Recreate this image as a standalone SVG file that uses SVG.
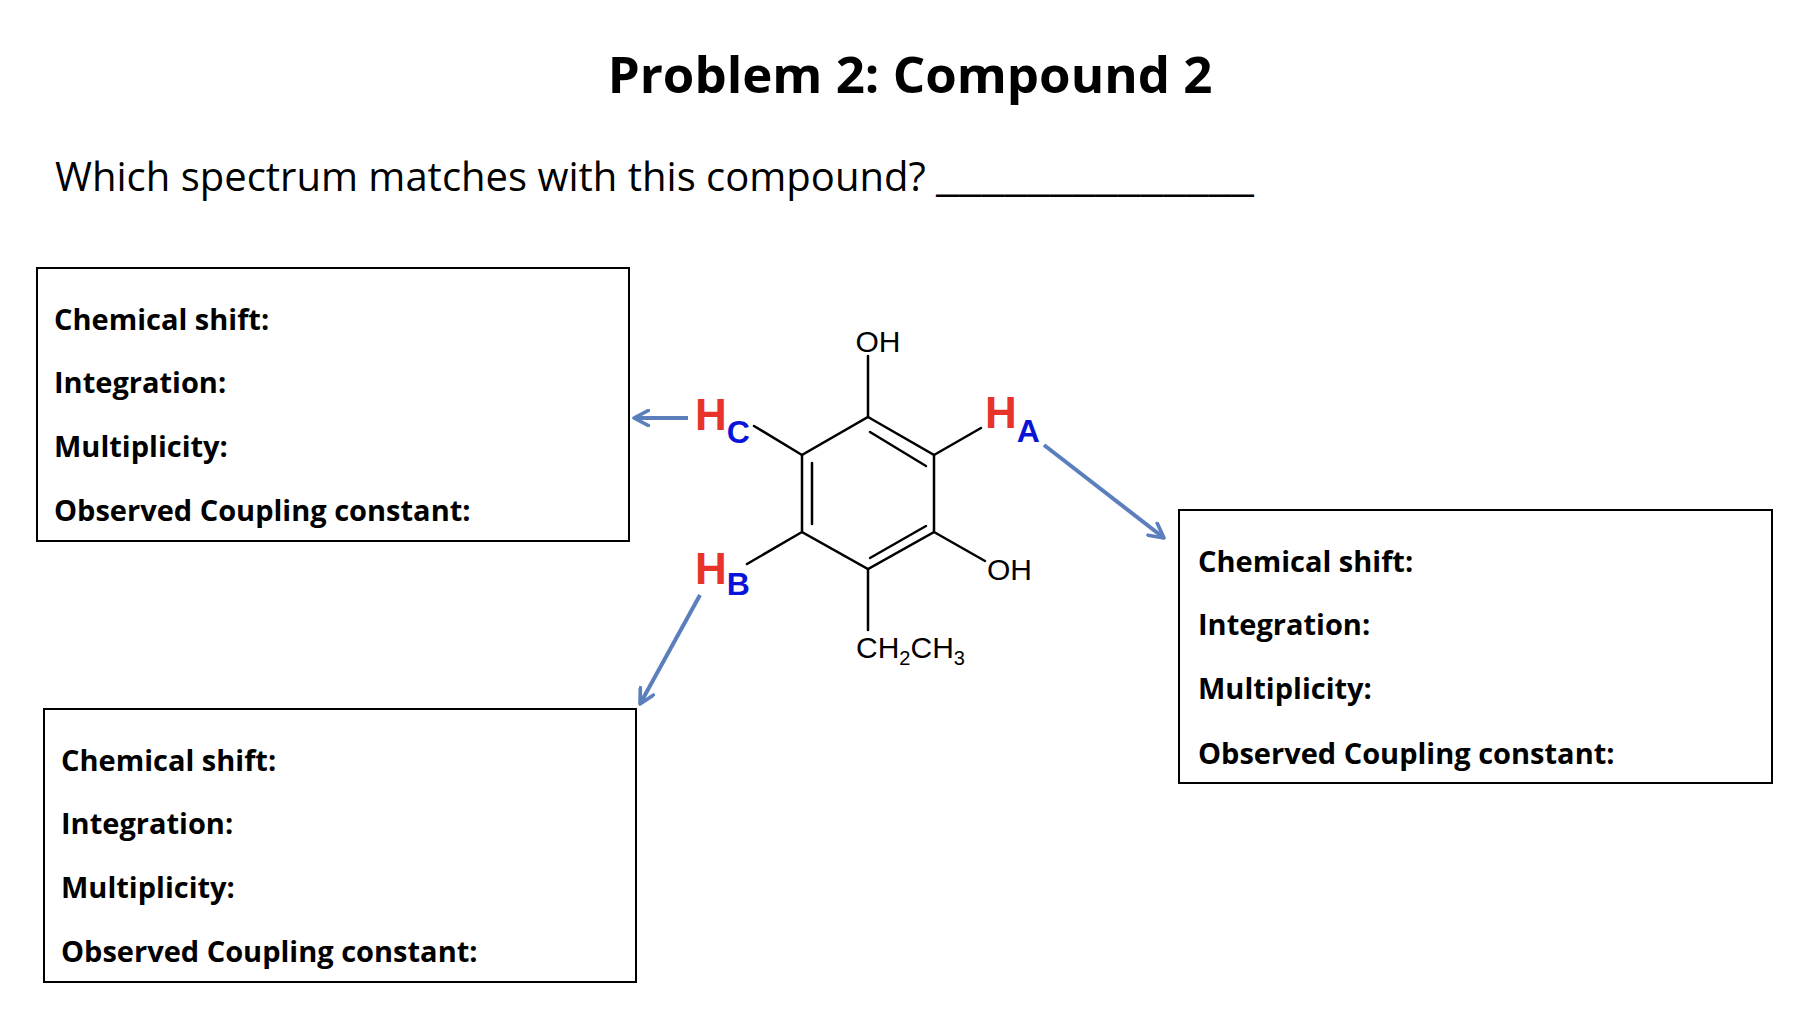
<svg xmlns="http://www.w3.org/2000/svg" width="1805" height="1010" viewBox="0 0 1805 1010">
<defs>
<marker id="ah" markerWidth="18" markerHeight="18" refX="9" refY="5" orient="auto" markerUnits="userSpaceOnUse" viewBox="0 0 10 10">
<path d="M1,0.8 L9,5 L1,9.2" fill="none" stroke="#5b7fbd" stroke-width="2" stroke-linecap="round" stroke-linejoin="round"/>
</marker>
</defs>
<style>
text{font-family:"Open Sans","Liberation Sans",sans-serif}
.lbl{font-weight:bold;font-size:29px;fill:#000}
.box{fill:none;stroke:#000;stroke-width:2}
.bond{stroke:#000;stroke-width:2.5;fill:none;stroke-linecap:round}
.at{font-family:"Liberation Sans",Arial,sans-serif;font-size:30px;fill:#000}
.h{font-family:"Liberation Sans",Arial,sans-serif;font-weight:bold;font-size:44px;fill:#e8332a}
.s{font-family:"Liberation Sans",Arial,sans-serif;font-weight:bold;font-size:32px;fill:#0a14d8}
.arr{stroke:#5b7fbd;stroke-width:4;fill:none;marker-end:url(#ah)}
</style>
<rect width="1805" height="1010" fill="#fff"/>
<text x="910" y="93" text-anchor="middle" font-weight="bold" font-size="51">Problem 2: Compound 2</text>
<text x="55" y="191" font-size="40">Which spectrum matches with this compound? <tspan textLength="318" lengthAdjust="spacingAndGlyphs">______________</tspan></text>

<g id="boxC">
<rect class="box" x="37" y="268" width="592" height="273"/>
<text class="lbl" x="54" y="330">Chemical shift:</text>
<text class="lbl" x="54" y="393">Integration:</text>
<text class="lbl" x="54" y="457">Multiplicity:</text>
<text class="lbl" x="54" y="521">Observed Coupling constant:</text>
</g>
<g id="boxB">
<rect class="box" x="44" y="709" width="592" height="273"/>
<text class="lbl" x="61" y="771">Chemical shift:</text>
<text class="lbl" x="61" y="834">Integration:</text>
<text class="lbl" x="61" y="898">Multiplicity:</text>
<text class="lbl" x="61" y="962">Observed Coupling constant:</text>
</g>
<g id="boxA">
<rect class="box" x="1179" y="510" width="593" height="273"/>
<text class="lbl" x="1198" y="572">Chemical shift:</text>
<text class="lbl" x="1198" y="635">Integration:</text>
<text class="lbl" x="1198" y="699">Multiplicity:</text>
<text class="lbl" x="1198" y="764">Observed Coupling constant:</text>
</g>

<g id="molecule">
<path class="bond" d="M868,417 L934,455 L934,532 L868,569 L802,532 L802,455 Z"/>
<line class="bond" x1="870" y1="432" x2="926" y2="466"/>
<line class="bond" x1="812" y1="463" x2="812" y2="524"/>
<line class="bond" x1="926" y1="526" x2="870" y2="558"/>
<line class="bond" x1="868" y1="417" x2="868" y2="356"/>
<line class="bond" x1="802" y1="455" x2="754" y2="426"/>
<line class="bond" x1="934" y1="455" x2="981" y2="428"/>
<line class="bond" x1="802" y1="532" x2="747" y2="564"/>
<line class="bond" x1="934" y1="532" x2="985" y2="561"/>
<line class="bond" x1="868" y1="569" x2="868" y2="630"/>
<text class="at" x="878" y="352" text-anchor="middle">OH</text>
<text class="at" x="987" y="580">OH</text>
<text class="at" x="856" y="658">CH<tspan font-size="20" dy="7">2</tspan><tspan dy="-7">CH</tspan><tspan font-size="20" dy="7">3</tspan></text>
</g>
<g id="HC"><text class="h" x="695" y="430">H<tspan class="s" dy="13">C</tspan></text></g>
<g id="HA"><text class="h" x="985" y="428">H<tspan class="s" dy="14">A</tspan></text></g>
<g id="HB"><text class="h" x="695" y="584">H<tspan class="s" dy="11">B</tspan></text></g>

<g id="connectors">
<line class="arr" x1="688" y1="418" x2="634" y2="418"/>
<line class="arr" x1="1044" y1="445" x2="1164" y2="538"/>
<line class="arr" x1="700" y1="595" x2="640" y2="704"/>
</g>
</svg>
